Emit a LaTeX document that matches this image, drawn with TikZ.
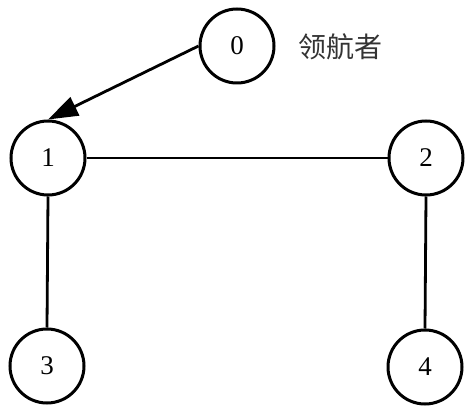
\documentclass[tikz,border=0pt]{standalone}
\usepackage{fontspec}
\setmainfont{Liberation Serif}
\newfontfamily\cjk{Noto Sans CJK SC}
\usetikzlibrary{arrows.meta}
\begin{document}
\begin{tikzpicture}[x=1pt,y=-1pt,
  vert/.style={circle,draw=black,line width=3pt,minimum size=74pt,inner sep=0pt,font=\fontsize{27}{27}\selectfont},
  edge/.style={line width=2.8pt,black},
  lead/.style={edge,-{Triangle[length=30pt,width=20pt]}}]
\useasboundingbox (0,0) rectangle (474,414);
\node[vert] (n0) at (237,46) {0};
\node[vert] (n1) at (48,158) {1};
\node[vert] (n2) at (426,158) {2};
\node[vert] (n3) at (47,366) {3};
\node[vert] (n4) at (425,367) {4};
\node[font=\cjk\fontsize{28}{28}\selectfont,text=black!80] (lbl) at (340,47) {领航者};
\draw[lead] (n0.west) -- (n1.north);
\draw[edge] (n1) -- (n2);
\draw[edge] (n1.south) -- (n3.north);
\draw[edge] (n2.south) -- (n4.north);
\end{tikzpicture}
\end{document}
